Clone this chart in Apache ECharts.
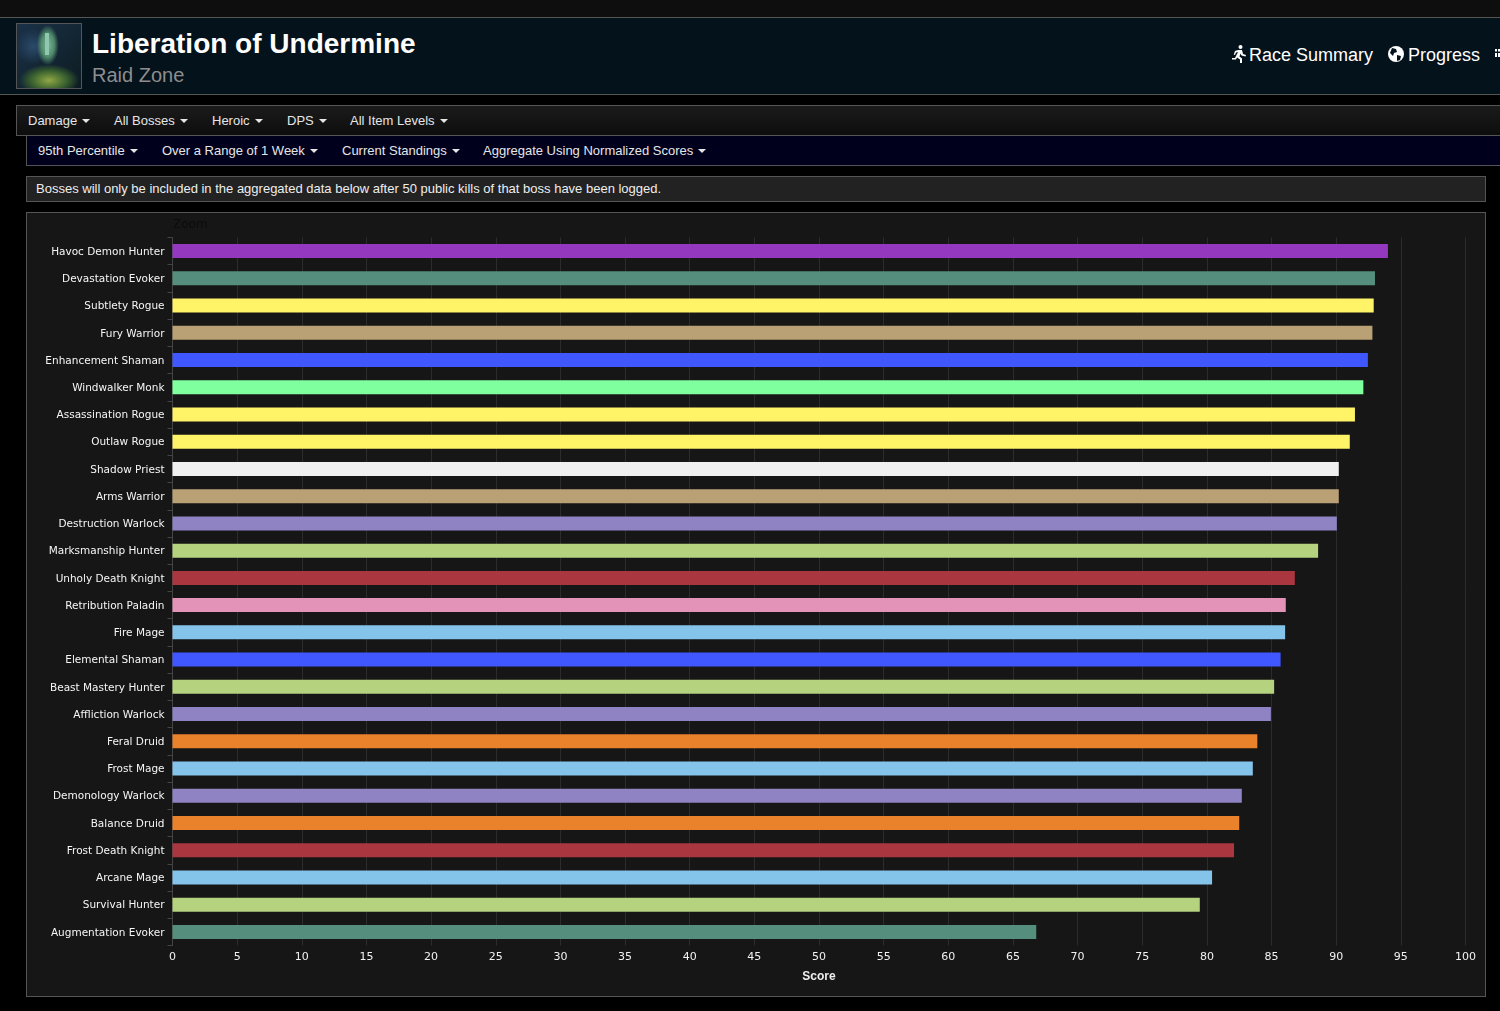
<!DOCTYPE html>
<html><head><meta charset="utf-8">
<script src="https://cdn.jsdelivr.net/npm/echarts@6/dist/echarts.min.js"></script>
<style>
html,body{margin:0;padding:0;background:#000;overflow:hidden;width:1500px;height:1011px;font-family:"Liberation Sans",Arial,sans-serif;color:#fff}
.abs{position:absolute;box-sizing:border-box}
.top{left:0;top:0;width:1500px;height:17px;background:#0e0e0e}
.head{left:-1px;top:17px;width:1502px;height:78px;background:#04121c;border:1px solid #555}
.icon{left:16px;top:23px;width:66px;height:66px;border:1px solid #555;background:linear-gradient(#8fc8b0,#8fc8b0) 46% 22%/4px 22px no-repeat,radial-gradient(ellipse 11px 20px at 48% 33%,#7fb596 0,#4f8a6a 60%,transparent 100%),radial-gradient(ellipse 30px 16px at 50% 88%,#8fa845 0,#39602f 60%,transparent 100%),radial-gradient(circle 18px at 25% 35%,#2b4a6b 0,transparent 100%),linear-gradient(135deg,#1a3147,#0d1c22)}
.title{left:92px;top:27px;font-size:28px;font-weight:bold;line-height:34px;white-space:nowrap}
.sub{left:92px;top:63px;font-size:20px;line-height:24px;color:#8d8d8d;white-space:nowrap}
.nav{font-size:18px;line-height:24px;top:43px;white-space:nowrap;color:#fff}
.bar1{left:16px;top:105px;width:1490px;height:31px;background:linear-gradient(#1b1b1b,#0d0d0d);border:1px solid #555}
.bar2{left:26px;top:135px;width:1480px;height:31px;background:#00001c;border:1px solid #555}
.m{position:absolute;font-size:13px;line-height:16px;white-space:nowrap;color:#e6e6e6}
.m::after{content:"";display:inline-block;margin-left:5px;vertical-align:2px;border-left:4px solid transparent;border-right:4px solid transparent;border-top:4px solid #e6e6e6}
.note{left:26px;top:176px;width:1460px;height:26px;background:#222;border:1px solid #555;font-size:13px;line-height:23px;padding-left:9px;color:#eee;white-space:nowrap}
.panel{left:26px;top:212px;width:1460px;height:785px;background:#161616;border:1px solid #555}
#chart{position:absolute;left:27px;top:213px;width:1458px;height:783px}
</style></head><body>
<div class="abs top"></div>
<div class="abs head"></div>
<div class="abs icon"></div>
<div class="abs title">Liberation of Undermine</div>
<div class="abs sub">Raid Zone</div>
<svg class="abs" style="left:1232px;top:45px" width="14" height="18" viewBox="0 0 14 18"><g fill="#fff"><circle cx="8.5" cy="2" r="2"/><path d="M6 5h4l1 4 3 1-.5 1.500-4-1-1-2-1 3 2.500 2v5H8v-4l-3-2-1 2H0v-1.500h3l3-6-2 .5-1 2.500-1.200-.6L3 6z"/></g></svg>
<div class="abs nav" style="left:1249px">Race Summary</div>
<svg class="abs" style="left:1388px;top:46px" width="16" height="16" viewBox="0 0 16 16"><circle cx="8" cy="8" r="8" fill="#fff"/><path d="M4 2l4 1 1 3-3 1-1 3-3-3zM9 9l4 1-1 4-3 1z" fill="#04121c"/></svg>
<div class="abs nav" style="left:1408px">Progress</div>
<svg class="abs" style="left:1495px;top:49px" width="5" height="11"><rect width="2" height="2.500" y="0" fill="#fff"/><rect x="3" width="2" height="2.500" y="0" fill="#fff"/><rect width="2" height="4" y="4" fill="#fff"/><rect x="3" width="2" height="4" y="4" fill="#fff"/></svg>
<div class="abs bar1"></div>
<div class="m" style="left:28px;top:113px">Damage</div>
<div class="m" style="left:114px;top:113px">All Bosses</div>
<div class="m" style="left:212px;top:113px">Heroic</div>
<div class="m" style="left:287px;top:113px">DPS</div>
<div class="m" style="left:350px;top:113px">All Item Levels</div>
<div class="abs bar2"></div>
<div class="m" style="left:38px;top:143px">95th Percentile</div>
<div class="m" style="left:162px;top:143px">Over a Range of 1 Week</div>
<div class="m" style="left:342px;top:143px">Current Standings</div>
<div class="m" style="left:483px;top:143px">Aggregate Using Normalized Scores</div>
<div class="abs note">Bosses will only be included in the aggregated data below after 50 public kills of that boss have been logged.</div>
<div class="abs panel"></div>
<div id="chart"></div>
<script>
const categories = ["Havoc Demon Hunter","Devastation Evoker","Subtlety Rogue","Fury Warrior","Enhancement Shaman","Windwalker Monk","Assassination Rogue","Outlaw Rogue","Shadow Priest","Arms Warrior","Destruction Warlock","Marksmanship Hunter","Unholy Death Knight","Retribution Paladin","Fire Mage","Elemental Shaman","Beast Mastery Hunter","Affliction Warlock","Feral Druid","Frost Mage","Demonology Warlock","Balance Druid","Frost Death Knight","Arcane Mage","Survival Hunter","Augmentation Evoker"];
const scores = [94.0,93.0,92.9,92.8,92.45,92.1,91.45,91.05,90.2,90.2,90.05,88.6,86.8,86.1,86.05,85.7,85.2,84.95,83.9,83.55,82.7,82.5,82.1,80.4,79.45,66.8];
const barColors = ["#9439bf","#558e7c","#fff468","#b9a075","#4056ff","#80ff9f","#fff468","#fff468","#f0f0f0","#b9a075","#8f83c3","#b5d27f","#aa3640","#e393b8","#85c4ea","#4056ff","#b5d27f","#8f83c3","#ea812b","#85c4ea","#8f83c3","#ea812b","#aa3640","#85c4ea","#b5d27f","#558e7c"];
const axisName = "Score";
const zoomLabel = "Zoom";
const chart = echarts.init(document.getElementById('chart'), null, {renderer:'canvas'});
const labelFont = '"DejaVu Sans",Verdana,sans-serif';
chart.setOption({
  animation:false,
  backgroundColor:'transparent',
  title:{text:zoomLabel,left:141,top:1,textStyle:{color:'#0c0c0c',fontSize:12,fontWeight:'normal',fontFamily:labelFont}},
  grid:{left:145.5,right:19.5,top:24.5,bottom:50.5,containLabel:false},
  xAxis:{type:'value',min:0,max:100,interval:5,
    name:axisName,nameLocation:'middle',nameGap:25,
    nameTextStyle:{color:'#eee',fontSize:12,fontWeight:'bold',fontFamily:'"Liberation Sans",Arial,sans-serif'},
    axisLine:{show:false},axisTick:{show:false},
    axisLabel:{color:'#f2f2f2',fontSize:11,margin:6,fontFamily:labelFont},
    splitLine:{show:true,lineStyle:{color:'#2c2c2c',width:1}}},
  yAxis:{type:'category',inverse:true,data:categories,
    axisLine:{show:true,lineStyle:{color:'#444',width:1}},
    axisTick:{show:true,length:5,lineStyle:{color:'#444'}},
    axisLabel:{color:'#f6f6f6',fontSize:10.5,margin:8,verticalAlign:'top',lineHeight:2,fontFamily:labelFont},
    splitLine:{show:false}},
  series:[{type:'bar',barWidth:14,silent:true,
    data:scores.map((v,i)=>({value:v,itemStyle:{color:barColors[i]}}))}]
});
</script>
</body></html>
